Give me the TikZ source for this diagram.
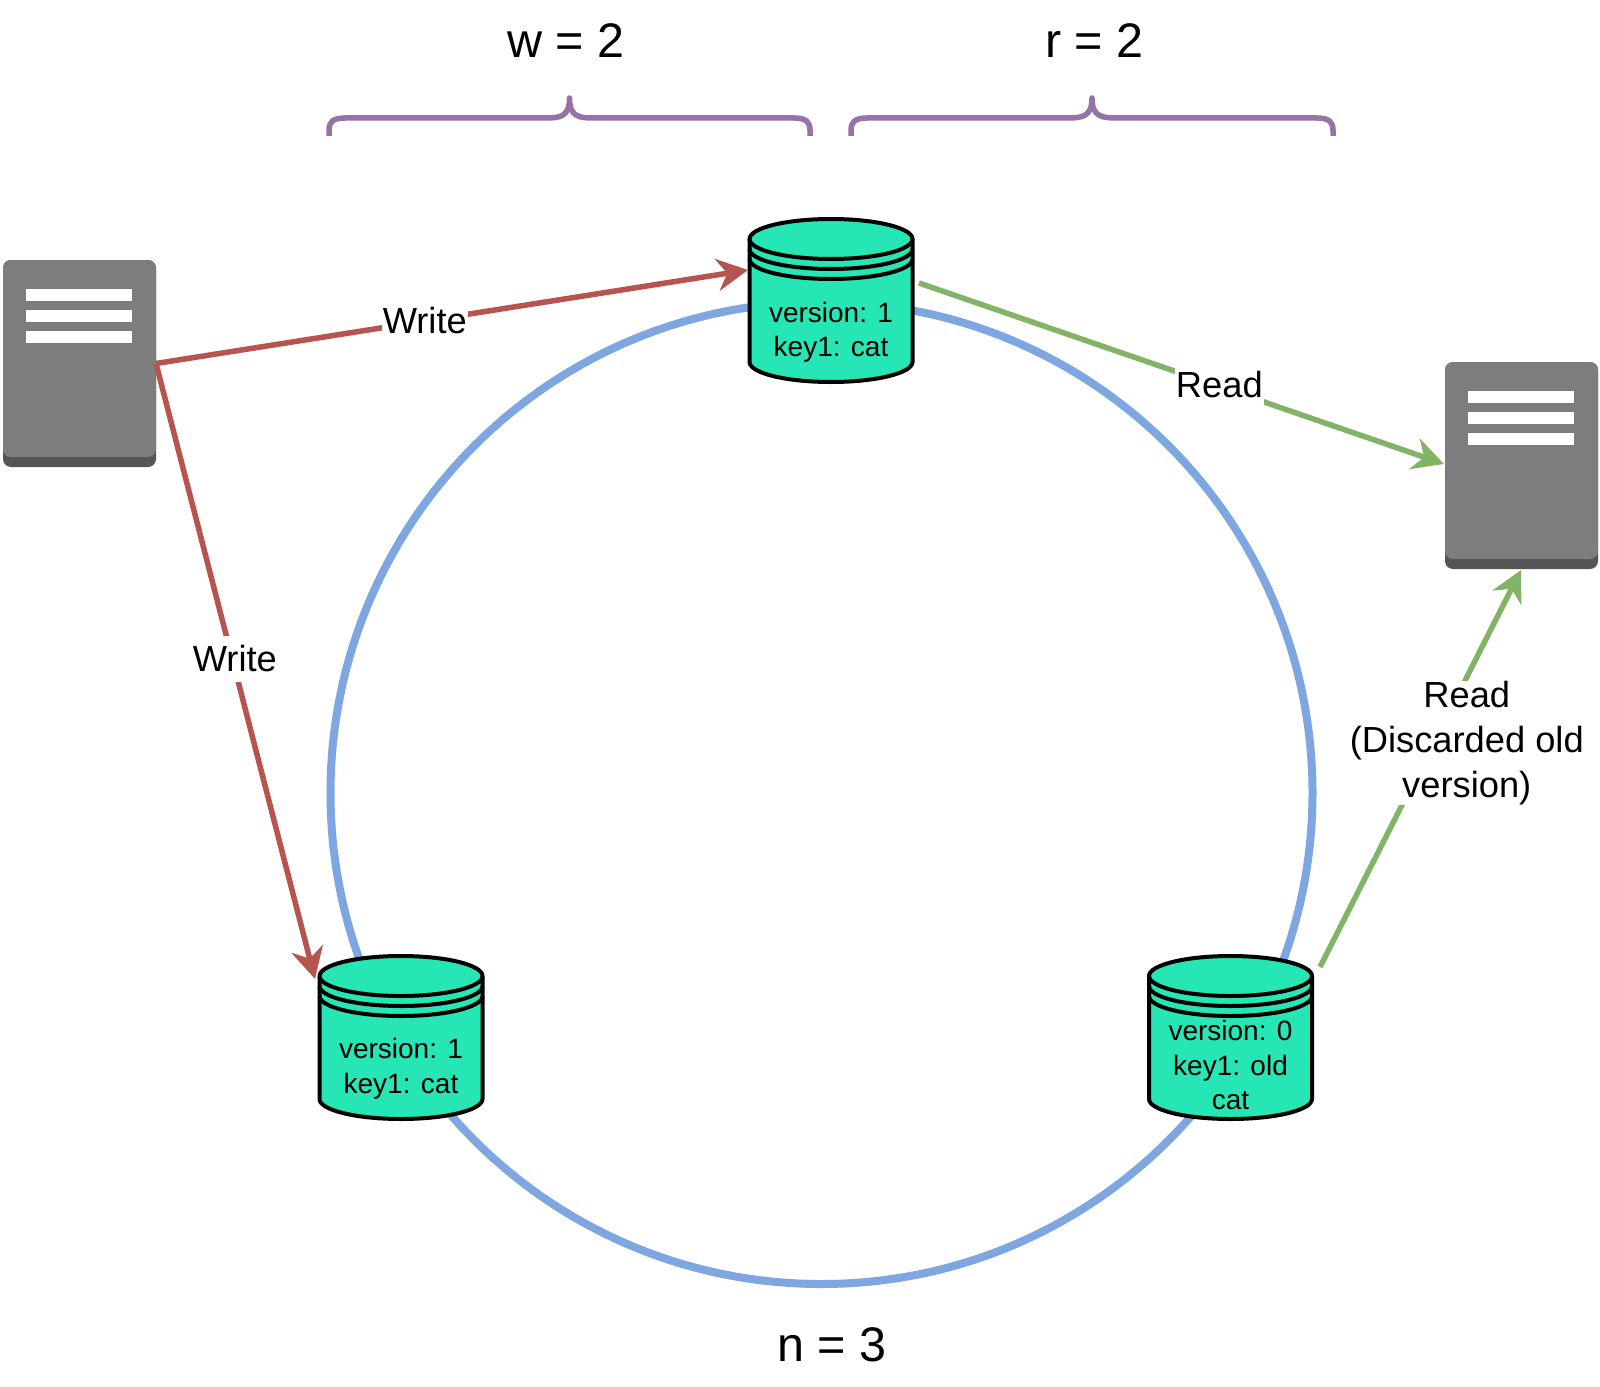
\documentclass[tikz,border=0pt]{standalone}
\usepackage{fontspec}
\setmainfont{Liberation Sans}
\usetikzlibrary{arrows.meta,calc}
\definecolor{ringblue}{HTML}{7EA6E0}
\definecolor{wred}{HTML}{B85450}
\definecolor{rgreen}{HTML}{82B366}
\definecolor{bracep}{HTML}{9673A6}
\definecolor{dbfill}{HTML}{27E6B5}
\definecolor{srv}{HTML}{7D7D7D}
\definecolor{srvdark}{HTML}{555555}
\tikzset{
  dbline/.style={draw=black,line width=4pt},
  dbnode/.style={minimum width=165pt,minimum height=165pt,inner sep=0pt,outer sep=0pt,align=center,text depth=0pt},
  dbtext/.style={font=\fontsize{28}{34.5}\selectfont,align=center,inner sep=0pt,text=black},
  srvbody/.style={minimum width=153pt,minimum height=207pt,inner sep=0pt,outer sep=0pt,rounded corners=8pt},
  srvbar/.style={fill=white,draw=none},
  wire/.style={line width=5.5pt,-{Stealth[length=31pt,width=32pt,inset=10pt]}},
  wlabel/.style={fill=white,inner xsep=1pt,inner ysep=0pt,minimum height=46pt,font=\fontsize{36.3}{45}\selectfont,align=center,text=black},
  brace/.style={draw=bracep,line width=5.5pt,line cap=butt,line join=round},
  big/.style={font=\fontsize{48.5}{56}\selectfont,inner sep=0pt,text=black}
}
% name, cx, top y, text y offset
\newcommand{\dbcyl}[4]{%
  \coordinate (#1-c) at (#2,#3+82.5);
  \filldraw[fill=dbfill,dbline] (#2-81.5,#3+21) arc[x radius=81.5,y radius=20,start angle=180,end angle=360] -- (#2+81.5,#3+144) arc[x radius=81.5,y radius=20,start angle=0,end angle=180] -- cycle;
  \draw[dbline] (#2-81.5,#3+21) arc[x radius=81.5,y radius=20,start angle=180,end angle=0];
  \draw[dbline] (#2-81.5,#3+31) arc[x radius=81.5,y radius=20,start angle=180,end angle=0];
  \draw[dbline] (#2-81.5,#3+41) arc[x radius=81.5,y radius=20,start angle=180,end angle=0];
  \node[dbnode] (#1) at (#2,#3+82.5) {};
  \node[dbtext] (#1-label) at (#2,#3+#4) {\dbtxt};
}
\newcommand{\srvbox}[3]{%
  \fill[srvdark,rounded corners=8pt] (#2,#3) rectangle ++(153,207);
  \fill[srv,rounded corners=8pt] (#2,#3) rectangle ++(153,197);
  \node[srvbody] (#1) at (#2+76.5,#3+103.5) {};
  \fill[srvbar] (#2+23,#3+29) rectangle ++(106,12);
  \fill[srvbar] (#2+23,#3+50) rectangle ++(106,12);
  \fill[srvbar] (#2+23,#3+71) rectangle ++(106,12);
}
\newcommand{\dbtxt}{}
\begin{document}
\begin{tikzpicture}[x=1pt,y=-1pt]
\useasboundingbox (0,0) rectangle (1600,1386);
\fill[white] (0,0) rectangle (1600,1386);
% ring
\node[draw=ringblue,line width=8pt,circle,minimum size=982pt,inner sep=0pt,outer sep=0pt] (ring) at (821.5,793) {};
% databases
\renewcommand{\dbtxt}{version: 1\\key1: cat}
\dbcyl{db1}{831}{218}{114.5}
\dbcyl{db2}{401}{955}{113.5}
\renewcommand{\dbtxt}{version: 0\\key1: old\\cat}
\dbcyl{db3}{1230.5}{955}{110}
% servers
\srvbox{client}{3}{260}
\srvbox{coord}{1445}{362}
% connector ends
\coordinate (w1end) at (748,270);
\coordinate (w2end) at (315,979);
\coordinate (r1start) at (919,283);
\coordinate (r1end) at (1444,464);
\coordinate (r2start) at (1320,967);
\coordinate (r2end) at (1521,570);
% write
\draw[wire,wred] (client.east) -- node[wlabel,pos=.454,yshift=.8pt] (wl1) {Write} (w1end);
\draw[wire,wred] (client.east) -- node[wlabel,pos=.48,xshift=2.5pt] (wl2) {Write} (w2end);
% read
\draw[wire,rgreen] (r1start) -- node[wlabel,pos=.572,yshift=2pt] (rl1) {Read} (r1end);
\draw[wire,rgreen] (r2start) -- node[wlabel,pos=.576,xshift=31pt,yshift=-4.5pt,inner xsep=0pt] (rl2) {Read\\(Discarded old\\version)} (r2end);
% braces
\draw[brace] (329,136) -- (329,130) .. controls (329,122) and (333,118) .. (345,118) -- (545,118) .. controls (560,118) and (569.5,117) .. (569.5,98) .. controls (569.5,117) and (579,118) .. (594,118) -- (794,118) .. controls (806,118) and (810,122) .. (810,130) -- (810,136);
\draw[brace] (851,136) -- (851,130) .. controls (851,122) and (855,118) .. (867,118) -- (1067,118) .. controls (1082,118) and (1092,117) .. (1092,98) .. controls (1092,117) and (1102,118) .. (1117,118) -- (1317,118) .. controls (1329,118) and (1333,122) .. (1333,130) -- (1333,136);
% titles
\node[big] (wtitle) at (566,41) {w = 2};
\node[big] (rtitle) at (1094.5,41) {r = 2};
\node[big] (ntitle) at (832,1345) {n = 3};
\end{tikzpicture}
\end{document}
